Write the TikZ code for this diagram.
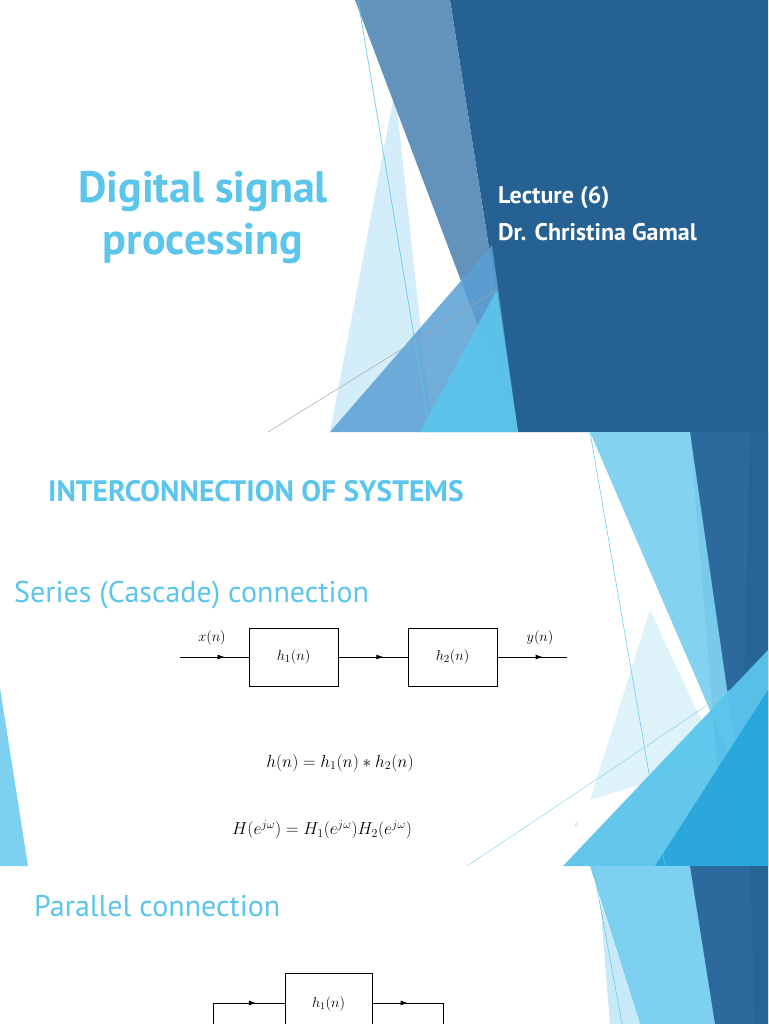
\documentclass[tikz,border=0pt]{standalone}
\usepackage{fontspec}
\setmainfont{PT Sans}
\usetikzlibrary{arrows.meta,decorations.markings}
\definecolor{dk}{RGB}{37,97,146}
\definecolor{dk2}{RGB}{44,106,158}
\definecolor{steel}{RGB}{91,141,184}
\definecolor{cy}{RGB}{91,197,236}
\definecolor{lb}{RGB}{125,208,240}
\definecolor{pale}{RGB}{200,234,248}
\definecolor{mb}{RGB}{90,160,212}
\definecolor{dc}{RGB}{30,160,216}
\begin{document}
\begin{tikzpicture}[x=1pt,y=-1pt,
  blk/.style={draw,line width=0.8pt,minimum width=89pt,minimum height=58pt,inner sep=0pt,font=\fontsize{15}{17}\selectfont},
  wire/.style={line width=0.8pt},
  mid/.style={wire,postaction={decorate},decoration={markings,mark=at position #1 with {\arrow{Latex[length=7pt,width=5pt]}}}},
  ttl/.style={text=cy,anchor=base west,inner sep=0pt}]
\useasboundingbox (0,0) rectangle (768,1024);
\fill[white] (0,0) rectangle (768,1024);
% ---------- slide 1 ----------
\begin{scope}
\clip (0,0) rectangle (768,432);
\fill[dk] (450,0) -- (768,0) -- (768,432) -- (518,432) -- cycle;
\fill[pale,opacity=.8] (395,90) -- (330,432) -- (432,432) -- cycle;
\fill[steel,opacity=.95] (355,0) -- (450,0) -- (518,432) -- cycle;
\fill[mb,opacity=.85] (330,432) -- (492,245) -- (518,432) -- cycle;
\fill[cy,opacity=.9] (420,432) -- (497,290) -- (518,432) -- cycle;
\draw[cy,line width=0.6pt] (358,0) -- (430,432);
\draw[gray!70,line width=0.5pt] (268,432) -- (497,290);
\end{scope}
\node[text=cy,font=\bfseries\fontsize{44}{52}\selectfont,align=center] (t1) at (203,218) {Digital signal\\processing};
\node[text=white,font=\bfseries\fontsize{24}{37}\selectfont,align=left,anchor=north west,inner sep=0pt] (t2) at (498,186) {Lecture (6)\\Dr. Christina Gamal};
% ---------- slide 2 ----------
\begin{scope}
\clip (0,432) rectangle (768,866);
\fill[lb] (0,688) -- (28,866) -- (0,866) -- cycle;
\fill[dk2] (690,432) -- (768,432) -- (768,866) -- (725,866) -- cycle;
\fill[dk,opacity=.6] (750,432) -- (768,432) -- (768,866) -- (740,866) -- cycle;
\fill[lb,opacity=.95] (590,432) -- (690,432) -- (740,780) -- cycle;
\fill[pale,opacity=.6] (650,610) -- (590,800) -- (720,760) -- cycle;
\fill[cy,opacity=.95] (563,866) -- (768,650) -- (768,866) -- cycle;
\fill[dc,opacity=.8] (655,866) -- (768,690) -- (768,866) -- cycle;
\draw[cy,line width=0.5pt] (590,432) -- (665,866);
\draw[cy!70,line width=0.5pt] (467,866) -- (730,690);
\end{scope}
\node[ttl,font=\bfseries\fontsize{29.5}{32}\selectfont] (h1) at (48,501) {INTERCONNECTION OF SYSTEMS};
\node[ttl,font=\fontsize{30}{34}\selectfont] (h2) at (14,602) {Series (Cascade) connection};
\node[text=cy,font=\fontsize{5}{6}\selectfont] (pg) at (576,825) {2};
\node[blk] (b1) at (293.5,657) {$h_1(n)$};
\node[blk] (b2) at (452.5,657) {$h_2(n)$};
\coordinate (in) at (180,657);
\coordinate (out) at (567,657);
\draw[mid=0.65] (in) -- (b1.west);
\draw[mid=0.65] (b1.east) -- (b2.west);
\draw[mid=0.65] (b2.east) -- (out);
\node[font=\fontsize{14}{16}\selectfont] (xl) at (212,638) {$x(n)$};
\node[font=\fontsize{14}{16}\selectfont] (yl) at (540,638) {$y(n)$};
\node[font=\fontsize{18.5}{20}\selectfont] (e1) at (340,763) {$h(n) = h_1(n) * h_2(n)$};
\node[font=\fontsize{18.5}{20}\selectfont] (e2) at (322,830) {$H(e^{j\omega}) = H_1(e^{j\omega})H_2(e^{j\omega})$};
% ---------- slide 3 ----------
\begin{scope}
\clip (0,866) rectangle (768,1024);
\fill[lb] (590,866) -- (690,866) -- (720,1024) -- (640,1024) -- cycle;
\fill[pale] (600,900) -- (640,1024) -- (610,1024) -- cycle;
\fill[dk2] (690,866) -- (768,866) -- (768,1024) -- (715,1024) -- cycle;
\fill[dk,opacity=.6] (750,866) -- (768,866) -- (768,1024) -- (755,1024) -- cycle;
\draw[cy,line width=0.5pt] (593,866) -- (622,1024);
\end{scope}
\node[ttl,font=\fontsize{30}{34}\selectfont] (h3) at (34,916) {Parallel connection};
\node[blk,minimum width=87pt,minimum height=64pt,anchor=north] (p1) at (328.5,973) {};
\node[font=\fontsize{14}{16}\selectfont] (p1l) at (328.5,1004) {$h_1(n)$};
\coordinate (pl) at (213,1003);
\coordinate (pld) at (213,1030);
\coordinate (pr) at (443,1003);
\coordinate (prd) at (443,1030);
\draw[wire] (pld) -- (pl);
\draw[mid=0.6] (pl) -- (p1.west |- pl);
\draw[mid=0.5] (p1.east |- pr) -- (pr);
\draw[wire] (pr) -- (prd);
\end{tikzpicture}
\end{document}
